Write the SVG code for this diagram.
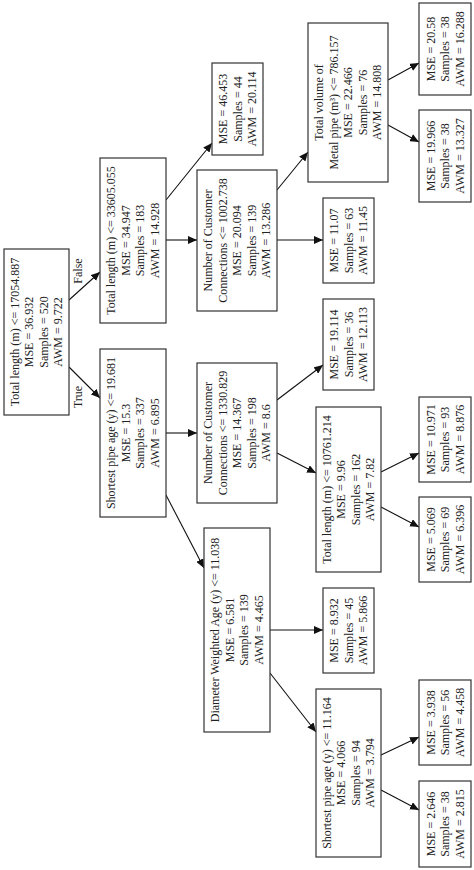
<svg xmlns="http://www.w3.org/2000/svg" width="474" height="870" viewBox="0 0 474 870">
<style>
.box{fill:#fff;stroke:#333;stroke-width:1.2}
text{font-family:"Liberation Serif","Times New Roman",serif;font-size:12px;fill:#222;text-anchor:middle}
.edge{stroke:#111;stroke-width:1.1;fill:none}
</style>
<defs>
<marker id="arr" markerUnits="userSpaceOnUse" markerWidth="10" markerHeight="8" refX="9" refY="4" orient="auto">
<path d="M0,0 L9,4 L0,8 Z" fill="#111"/>
</marker>
</defs>
<rect width="474" height="870" fill="#fff"/>
<g id="connectors">
<line class="edge" x1="69" y1="300" x2="100" y2="272" marker-end="url(#arr)"/>
<line class="edge" x1="69" y1="367" x2="100" y2="398" marker-end="url(#arr)"/>
<line class="edge" x1="166" y1="200" x2="212" y2="143" marker-end="url(#arr)"/>
<line class="edge" x1="166" y1="240" x2="197" y2="240" marker-end="url(#arr)"/>
<line class="edge" x1="277" y1="190" x2="308" y2="152" marker-end="url(#arr)"/>
<line class="edge" x1="277" y1="240" x2="323" y2="240" marker-end="url(#arr)"/>
<line class="edge" x1="388" y1="80" x2="419" y2="63" marker-end="url(#arr)"/>
<line class="edge" x1="388" y1="125" x2="419" y2="142" marker-end="url(#arr)"/>
<line class="edge" x1="166" y1="433" x2="197" y2="433" marker-end="url(#arr)"/>
<line class="edge" x1="166" y1="495" x2="204" y2="568" marker-end="url(#arr)"/>
<line class="edge" x1="277" y1="400" x2="323" y2="365" marker-end="url(#arr)"/>
<line class="edge" x1="277" y1="453" x2="316" y2="473" marker-end="url(#arr)"/>
<line class="edge" x1="381" y1="472" x2="419" y2="453" marker-end="url(#arr)"/>
<line class="edge" x1="381" y1="507" x2="419" y2="527" marker-end="url(#arr)"/>
<line class="edge" x1="270" y1="630" x2="323" y2="630" marker-end="url(#arr)"/>
<line class="edge" x1="270" y1="673" x2="316" y2="732" marker-end="url(#arr)"/>
<line class="edge" x1="381" y1="755" x2="419" y2="737" marker-end="url(#arr)"/>
<line class="edge" x1="381" y1="790" x2="419" y2="810" marker-end="url(#arr)"/>
<text transform="translate(82,271) rotate(-90)">False</text>
<text transform="translate(82,397) rotate(-90)">True</text>
</g>

<g id="root">
<rect class="box" x="4" y="249" width="65" height="166"/>
<g transform="translate(36.5,332) rotate(-90)">
<text y="-17.75">Total length (m) &lt;= 17054.887</text>
<text y="-3.25">MSE = 36.932</text>
<text y="11.25">Samples = 520</text>
<text y="25.75">AWM = 9.722</text>
</g>
</g>

<g id="tl33605">
<rect class="box" x="100" y="158" width="66" height="165"/>
<g transform="translate(133,240.5) rotate(-90)">
<text y="-17.75">Total length (m) &lt;= 33605.055</text>
<text y="-3.25">MSE = 34.947</text>
<text y="11.25">Samples = 183</text>
<text y="25.75">AWM = 14.928</text>
</g>
</g>

<g id="spa19">
<rect class="box" x="100" y="349" width="66" height="168"/>
<g transform="translate(133,433) rotate(-90)">
<text y="-17.75">Shortest pipe age (y) &lt;= 19.681</text>
<text y="-3.25">MSE = 15.3</text>
<text y="11.25">Samples = 337</text>
<text y="25.75">AWM = 6.895</text>
</g>
</g>

<g id="leaf46">
<rect class="box" x="212" y="63" width="51" height="92"/>
<g transform="translate(237.5,109) rotate(-90)">
<text y="-10.5">MSE = 46.453</text>
<text y="4">Samples = 44</text>
<text y="18.5">AWM = 20.114</text>
</g>
</g>

<g id="ncc1002">
<rect class="box" x="197" y="170" width="80" height="141"/>
<g transform="translate(237,240.5) rotate(-90)">
<text y="-25">Number of Customer</text>
<text y="-10.5">Connections &lt;= 1002.738</text>
<text y="4">MSE = 20.094</text>
<text y="18.5">Samples = 139</text>
<text y="33">AWM = 13.286</text>
</g>
</g>

<g id="tv786">
<rect class="box" x="308" y="23" width="80" height="159"/>
<g transform="translate(348,102.5) rotate(-90)">
<text y="-25">Total volume of</text>
<text y="-10.5">Metal pipe (m³) &lt;= 786.157</text>
<text y="4">MSE = 22.466</text>
<text y="18.5">Samples = 76</text>
<text y="33">AWM = 14.808</text>
</g>
</g>

<g id="leaf11">
<rect class="box" x="323" y="198" width="51" height="85"/>
<g transform="translate(348.5,240.5) rotate(-90)">
<text y="-10.5">MSE = 11.07</text>
<text y="4">Samples = 63</text>
<text y="18.5">AWM = 11.45</text>
</g>
</g>

<g id="leaf20">
<rect class="box" x="419" y="3" width="52" height="92"/>
<g transform="translate(445,49) rotate(-90)">
<text y="-10.5">MSE = 20.58</text>
<text y="4">Samples = 38</text>
<text y="18.5">AWM = 16.288</text>
</g>
</g>

<g id="leaf19966">
<rect class="box" x="419" y="110" width="52" height="92"/>
<g transform="translate(445,156) rotate(-90)">
<text y="-10.5">MSE = 19.966</text>
<text y="4">Samples = 38</text>
<text y="18.5">AWM = 13.327</text>
</g>
</g>

<g id="leaf19114">
<rect class="box" x="323" y="299" width="51" height="91"/>
<g transform="translate(348.5,344.5) rotate(-90)">
<text y="-10.5">MSE = 19.114</text>
<text y="4">Samples = 36</text>
<text y="18.5">AWM = 12.113</text>
</g>
</g>

<g id="ncc1330">
<rect class="box" x="197" y="363" width="80" height="140"/>
<g transform="translate(237,433) rotate(-90)">
<text y="-25">Number of Customer</text>
<text y="-10.5">Connections &lt;= 1330.829</text>
<text y="4">MSE = 14.367</text>
<text y="18.5">Samples = 198</text>
<text y="33">AWM = 8.6</text>
</g>
</g>

<g id="tl10761">
<rect class="box" x="316" y="407" width="65" height="165"/>
<g transform="translate(348.5,489.5) rotate(-90)">
<text y="-17.75">Total length (m) &lt;= 10761.214</text>
<text y="-3.25">MSE = 9.96</text>
<text y="11.25">Samples = 162</text>
<text y="25.75">AWM = 7.82</text>
</g>
</g>

<g id="leaf10971">
<rect class="box" x="419" y="397" width="52" height="85"/>
<g transform="translate(445,439.5) rotate(-90)">
<text y="-10.5">MSE = 10.971</text>
<text y="4">Samples = 93</text>
<text y="18.5">AWM = 8.876</text>
</g>
</g>

<g id="leaf5069">
<rect class="box" x="419" y="497" width="52" height="85"/>
<g transform="translate(445,539.5) rotate(-90)">
<text y="-10.5">MSE = 5.069</text>
<text y="4">Samples = 69</text>
<text y="18.5">AWM = 6.396</text>
</g>
</g>

<g id="dwa11">
<rect class="box" x="204" y="528" width="66" height="204"/>
<g transform="translate(237,630) rotate(-90)">
<text y="-17.75">Diameter Weighted Age (y) &lt;= 11.038</text>
<text y="-3.25">MSE = 6.581</text>
<text y="11.25">Samples = 139</text>
<text y="25.75">AWM = 4.465</text>
</g>
</g>

<g id="leaf8932">
<rect class="box" x="323" y="588" width="51" height="85"/>
<g transform="translate(348.5,630.5) rotate(-90)">
<text y="-10.5">MSE = 8.932</text>
<text y="4">Samples = 45</text>
<text y="18.5">AWM = 5.866</text>
</g>
</g>

<g id="spa11">
<rect class="box" x="316" y="689" width="65" height="168"/>
<g transform="translate(348.5,773) rotate(-90)">
<text y="-17.75">Shortest pipe age (y) &lt;= 11.164</text>
<text y="-3.25">MSE = 4.066</text>
<text y="11.25">Samples = 94</text>
<text y="25.75">AWM = 3.794</text>
</g>
</g>

<g id="leaf3938">
<rect class="box" x="419" y="680" width="52" height="85"/>
<g transform="translate(445,722.5) rotate(-90)">
<text y="-10.5">MSE = 3.938</text>
<text y="4">Samples = 56</text>
<text y="18.5">AWM = 4.458</text>
</g>
</g>

<g id="leaf2646">
<rect class="box" x="419" y="781" width="52" height="86"/>
<g transform="translate(445,824) rotate(-90)">
<text y="-10.5">MSE = 2.646</text>
<text y="4">Samples = 38</text>
<text y="18.5">AWM = 2.815</text>
</g>
</g>
</svg>
